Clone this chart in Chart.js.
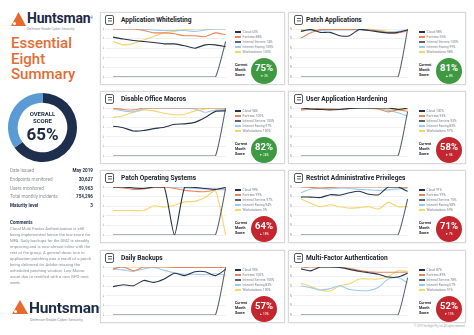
<!DOCTYPE html>
<html>
<head>
<meta charset="utf-8">
<script src="https://cdn.jsdelivr.net/npm/chart.js@4.4.1/dist/chart.umd.min.js"></script>
<style>
  body { margin: 0; width: 474px; height: 335px; background: #fff; position: relative; overflow: hidden;
         font-family: Roboto, "Open Sans", sans-serif; color: #1e2b45; }
  .abs { position: absolute; white-space: nowrap; }
  .tri { position: absolute; background: #e8692d; clip-path: polygon(50% 0, 100% 100%, 0 100%); }
  .tri i { position: absolute; background: #fff; border-radius: 50%; }
  .brand { position: absolute; font-weight: 700; color: #1e2b45; letter-spacing: -0.2px; }
  .brand sup { font-size: 20%; vertical-align: top; }
  .tag { position: absolute; color: #8a93a3; }
  .heading { position: absolute; left: 11px; top: 36px; font-size: 15px; line-height: 15.5px; color: #e46c33; font-weight: 500; }
  .stats { position: absolute; left: 10px; top: 168px; width: 83px; font-size: 4.6px; }
  .stats div { display: flex; justify-content: space-between; height: 8.8px; }
  .stats span:first-child { color: #8a8f98; }
  .stats b { color: #1e2b45; }
  .comments { position: absolute; left: 10px; top: 220px; width: 85px; font-size: 4.2px; line-height: 6px; color: #8a8f98; white-space: normal; }
  .comments b { color: #1e2b45; display: block; font-size: 4.6px; }
  .panel { position: absolute; border: 1px solid #d8d8d8; background: #fff; box-shadow: 0 0 2px rgba(0,0,0,0.1); box-sizing: border-box; }
  .panel canvas { position: absolute; }
  .icon { position: absolute; width: 7px; height: 8px; border: 1.5px solid #555a63; border-radius: 2px; }
  .icon::after { content: ""; position: absolute; left: 1.5px; right: 1.5px; top: 2px; height: 1.2px; background: #555a63; box-shadow: 0 2.4px 0 #555a63; }
  .title { position: absolute; font-size: 6.6px; font-weight: 700; color: #20242c; }
  .leg { position: absolute; font-size: 3.3px; color: #7b808a; line-height: 5px; }
  .leg div { height: 5px; }
  .leg em { display: inline-block; width: 6px; height: 1.4px; margin-right: 1.6px; vertical-align: middle; }
  .cms { position: absolute; font-size: 3.6px; font-weight: 700; color: #20242c; line-height: 5px; }
  .score { position: absolute; width: 26px; height: 26px; border-radius: 50%; color: #fff; text-align: center; }
  .score b { position: absolute; left: 0; right: 0; top: 5px; font-size: 9.5px; line-height: 10px; }
  .score small { position: absolute; left: 0; right: 0; top: 17px; font-size: 3px; line-height: 3px; }
  .foot { position: absolute; left: 414px; top: 325px; font-size: 2.6px; color: #a0a4ab; }
</style>
</head>
<body>

<!-- brand and summary column -->
<div class="tri" style="left:11px;top:12px;width:15px;height:14px"><i style="left:2px;top:10px;width:3px;height:3px"></i></div>
<div class="brand" style="left:27px;top:10px;font-size:14px;line-height:16px">Huntsman<sup>®</sup></div>
<div class="tag" style="left:27px;top:27px;font-size:3.6px">Defence-Grade Cyber Security</div>

<div class="heading">Essential<br>Eight<br>Summary</div>

<canvas id="overall" class="abs" style="left:8px;top:93px" width="69" height="69"></canvas>
<div class="abs" style="left:8px;top:110px;width:69px;text-align:center;font-weight:700;font-size:6px;line-height:7px">OVERALL<br>SCORE</div>
<div class="abs" id="overallText" style="left:8px;top:125px;width:69px;text-align:center;font-weight:700;font-size:17px;line-height:19px"></div>

<div class="stats" id="stats"></div>

<div class="comments"><b>Comments</b>Cloud Multi Factor Authentication is still being implemented hence the low score for MFA. Daily backups for the DMZ is steadily improving and is now almost inline with the rest of the group. A general down turn in application patching was a result of a patch being delivered for Adobe missing the scheduled patching window. Low Macro score due to rectified with a new GPO next week.</div>

<div class="tri" style="left:12px;top:300px;width:16px;height:14px"><i style="left:2px;top:10px;width:3px;height:3px"></i></div>
<div class="brand" style="left:29px;top:299px;font-size:15.5px;line-height:18px">Huntsman<sup>®</sup></div>
<div class="tag" style="left:30px;top:317px;font-size:4px">Defence-Grade Cyber Security</div>

<div class="foot">© 2019 Ten Eight Pty Ltd. All rights reserved.</div>

<div id="panels"></div>

<script>
// x axis: twelve monthly readings, the first one is left unlabelled
const months = ['May', 'Jun', 'Jul', 'Aug', 'Sep', 'Oct', 'Nov', 'Dec', 'Jan', 'Feb', 'Mar', 'Apr'];
const yTicks = [0, 20, 40, 60, 80, 100];

const seriesNames = ['Cloud', 'Fortress', 'Internal Servers', 'Internet Facing', 'Workstations'];
const seriesColors = ['#26334a', '#e9875c', '#5d6574', '#9ccaf0', '#f3d66c'];

const overallScore = 65;
const statLabels = ['Date issued', 'Endpoints monitored', 'Users monitored', 'Total monthly incidents', 'Maturity level'];
const statValues = ['May 2019', '30,627', '59,963', '754,296', '3'];

const controlTitles = [
  'Application Whitelisting', 'Patch Applications',
  'Disable Office Macros', 'User Application Hardening',
  'Patch Operating Systems', 'Restrict Administrative Privileges',
  'Daily Backups', 'Multi-Factor Authentication'
];
const controlScores = [75, 81, 82, 58, 64, 71, 57, 52];
const controlChanges = [-2, 8, -24, -5, 18, -7, 10, -13];

// per control: Cloud, Fortress, Internal Servers, Internet Facing, Workstations
const appWhitelisting = [
  [83, 79, 76, 74, 72, 69, 69, 65, 60, 67, 67, 63],
  [100, 100, 100, 97, 92, 92, 90, 86, 86, 84, 92, 88],
  [0, 0, 0, 0, 0, 0, 0, 0, 0, 0, 0, 74],
  [100, 100, 100, 99, 98, 97, 97, 97, 95, 98, 100, 100],
  [74, 67, 70, 77, 85, 92, 95, 99, 100, 100, 100, 100]
];
const patchApps = [
  [95, 99, 93, 93, 86, 86, 99, 97, 94, 92, 93, 98],
  [81, 92, 99, 99, 99, 99, 99, 98, 96, 92, 92, 96],
  [0, 0, 0, 0, 0, 0, 0, 0, 0, 0, 0, 100],
  [97, 97, 97, 98, 98, 98, 98, 97, 97, 93, 95, 99],
  [99, 99, 100, 100, 100, 100, 100, 99, 98, 95, 93, 98]
];
const officeMacros = [
  [62, 59, 52, 53, 57, 60, 66, 67, 70, 80, 93, 94],
  [100, 97, 96, 100, 100, 100, 100, 100, 100, 100, 100, 100],
  [0, 0, 0, 0, 0, 0, 0, 0, 0, 0, 0, 100],
  [98, 94, 92, 98, 100, 100, 99, 99, 98, 91, 96, 97],
  [80, 84, 91, 96, 94, 89, 86, 87, 94, 98, 100, 100]
];
const appHardening = [
  [100, 98, 97, 96, 97, 99, 100, 100, 100, 100, 97, 100],
  [96, 98, 99, 98, 97, 99, 100, 100, 98, 92, 96, 93],
  [0, 0, 0, 0, 0, 0, 0, 0, 0, 0, 0, 93],
  [97, 98, 98, 97, 98, 99, 99, 99, 98, 95, 90, 83],
  [95, 98, 100, 99, 98, 99, 100, 100, 100, 98, 99, 97]
];
const patchOs = [
  [100, 100, 98, 97, 100, 100, 0, 100, 99, 97, 95, 99],
  [100, 98, 95, 96, 99, 100, 97, 93, 91, 90, 94, 99],
  [0, 0, 0, 0, 0, 0, 0, 0, 0, 0, 0, 97],
  [99, 99, 98, 98, 100, 100, 99, 98, 97, 96, 95, 94],
  [51, 51, 51, 51, 61, 58, 62, 69, 70, 78, 92, 0]
];
const adminPrivileges = [
  [79, 79, 78, 84, 83, 88, 91, 85, 84, 100, 100, 91],
  [100, 99, 98, 99, 100, 100, 100, 100, 100, 100, 100, 99],
  [0, 0, 0, 0, 0, 0, 0, 0, 0, 0, 0, 75],
  [88, 96, 97, 96, 98, 97, 95, 94, 93, 94, 96, 98],
  [75, 66, 59, 63, 59, 56, 57, 59, 54, 68, 59, 59]
];
const dailyBackups = [
  [59, 63, 61, 72, 68, 75, 87, 82, 90, 90, 82, 95],
  [96, 100, 92, 100, 100, 100, 99, 99, 99, 99, 99, 100],
  [0, 0, 0, 0, 0, 0, 0, 0, 0, 0, 0, 100],
  [95, 94, 91, 96, 99, 93, 88, 85, 85, 84, 86, 83],
  [98, 100, 100, 100, 100, 100, 100, 100, 100, 100, 100, 100]
];
const mfa = [
  [96, 92, 100, 100, 99, 95, 91, 88, 85, 79, 79, 87],
  [98, 100, 100, 100, 100, 97, 93, 90, 89, 89, 89, 89],
  [0, 0, 0, 0, 0, 0, 0, 0, 0, 0, 0, 78],
  [61, 57, 52, 55, 61, 53, 51, 51, 58, 75, 78, 67],
  [66, 60, 52, 50, 61, 65, 75, 75, 75, 80, 92, 91]
];
const controlSeries = [appWhitelisting, patchApps, officeMacros, appHardening, patchOs, adminPrivileges, dailyBackups, mfa];

// ---- overall doughnut ----
new Chart(document.getElementById('overall'), {
  type: 'doughnut',
  data: {
    datasets: [{
      data: [overallScore, 100 - overallScore],
      backgroundColor: ['#1e2f4d', '#5b9bd5'],
      borderWidth: 0
    }]
  },
  options: {
    responsive: false, animation: false, devicePixelRatio: 1,
    cutout: '72%',
    plugins: { legend: { display: false }, tooltip: { enabled: false } }
  }
});
document.getElementById('overallText').textContent = overallScore + '%';

document.getElementById('stats').innerHTML = statLabels.map((l, i) =>
  i === statLabels.length - 1
    ? `<div><b>${l}</b><b>${statValues[i]}</b></div>`
    : `<div><span>${l}</span><b>${statValues[i]}</b></div>`
).join('');

// ---- control panels ----
const rowTops = [12, 91, 170, 250];
const cols = [
  { left: 100, width: 185, canvasLeft: 2, canvasWidth: 126, yAxisW: 10, titleLeft: 20, iconLeft: 4, legLeft: 134, circleX: 163 },
  { left: 288, width: 178, canvasLeft: 1, canvasWidth: 121, yAxisW: 11, titleLeft: 17, iconLeft: 5, legLeft: 130, circleX: 160 }
];

const host = document.getElementById('panels');

controlTitles.forEach((title, idx) => {
  const col = cols[idx % 2];
  const top = rowTops[Math.floor(idx / 2)];
  const series = controlSeries[idx];

  const panel = document.createElement('div');
  panel.className = 'panel';
  panel.style.cssText = `left:${col.left}px;top:${top}px;width:${col.width}px;height:73px`;

  const legend = seriesNames.map((n, s) =>
    `<div><em style="background:${seriesColors[s]}"></em>${n} ${series[s][series[s].length - 1]}%</div>`).join('');

  const score = controlScores[idx];
  const chg = controlChanges[idx];
  const circleColor = score >= 75 ? '#3d9a40' : '#c3262e';

  panel.innerHTML = `
    <div class="icon" style="left:${col.iconLeft}px;top:2px"></div>
    <div class="title" style="left:${col.titleLeft}px;top:3px">${title}</div>
    <canvas width="${col.canvasWidth}" height="58" style="left:${col.canvasLeft}px;top:13px"></canvas>
    <div class="leg" style="left:${col.legLeft}px;top:17px">${legend}</div>
    <div class="cms" style="left:${col.legLeft}px;top:50px">Current<br>Month<br>Score:</div>
    <div class="score" style="left:${col.circleX - 13}px;top:45px;background:${circleColor}">
      <b>${score}%</b><small>${chg < 0 ? '▼' : '▲'} ${Math.abs(chg)}%</small>
    </div>`;
  host.appendChild(panel);

  new Chart(panel.querySelector('canvas'), {
    type: 'line',
    data: {
      labels: months,
      datasets: series.map((vals, s) => ({
        label: seriesNames[s],
        data: vals,
        borderColor: seriesColors[s],
        borderWidth: 1.1,
        pointRadius: 0,
        tension: 0.2
      }))
    },
    options: {
      responsive: false, animation: false, devicePixelRatio: 1,
      layout: { padding: { top: 3, right: 2 } },
      plugins: { legend: { display: false }, tooltip: { enabled: false } },
      scales: {
        x: {
          grid: { display: false },
          border: { display: false },
          ticks: {
            font: { size: 3, family: 'Roboto' }, color: '#8d929b', padding: 1,
            maxRotation: 0, autoSkip: false,
            callback: (v, i) => i === 0 ? '' : months[i]
          },
          afterFit: s => { s.height = 7; }
        },
        y: {
          min: 0, max: 100,
          afterBuildTicks: s => { s.ticks = yTicks.map(v => ({ value: v })); },
          grid: { color: '#e6e6e6', lineWidth: 0.6 },
          border: { display: false },
          ticks: {
            font: { size: 3, family: 'Roboto' }, color: '#8d929b', padding: 1,
            callback: v => v + '%'
          },
          afterFit: s => { s.width = col.yAxisW; }
        }
      }
    }
  });
});
</script>
</body>
</html>
